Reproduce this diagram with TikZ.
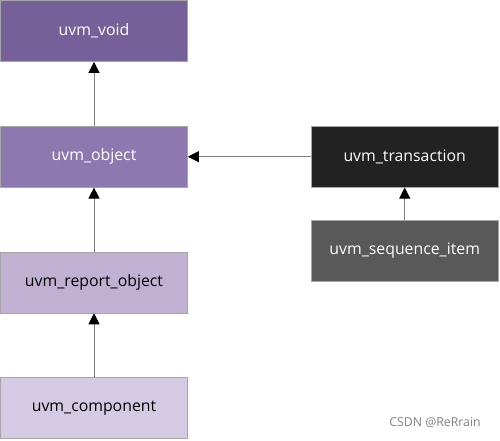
\documentclass[tikz,border=0pt]{standalone}
\usepackage{fontspec}
\setmainfont{Open Sans}
\usetikzlibrary{arrows.meta,positioning}
\definecolor{voidc}{HTML}{76609A}
\definecolor{objc}{HTML}{8D78B0}
\definecolor{repc}{HTML}{C0B1D3}
\definecolor{compc}{HTML}{D4CAE3}
\definecolor{transc}{HTML}{222222}
\definecolor{seqc}{HTML}{595959}

\begin{document}
\begin{tikzpicture}[
    node distance=1.28cm and 2.46cm,
    cls/.style={draw=gray!70, line width=0.4pt, minimum width=3.74cm, minimum height=1.22cm, align=center, font=\fontsize{9}{11}\selectfont, inner sep=0pt},
    arr/.style={-{Triangle[length=2.2mm, width=2.2mm, color=black]}, draw=gray, line width=0.4pt},
]
\useasboundingbox (0,0) rectangle (10,-8.8);

% UVM base classes
\node[cls, fill=voidc, text=white] at (1.88,-0.62) (void) {uvm\_void};
\node[cls, fill=objc, text=white, below=of void] (obj) {uvm\_object};
\node[cls, fill=repc, below=of obj] (rep) {uvm\_report\_object};
\node[cls, fill=compc, below=of rep] (comp) {uvm\_component};

% Transaction branch
\node[cls, fill=transc, text=white, right=of obj] (trans) {uvm\_transaction};
\node[cls, fill=seqc, text=white, below=0.64cm of trans] (seq) {uvm\_sequence\_item};

% Watermark
\node[font=\fontsize{7}{8}\selectfont, text=gray] at (8.7,-8.46) (mark) {CSDN @ReRrain};

% Arrows
\draw[arr] (obj) -- (void);
\draw[arr] (rep) -- (obj);
\draw[arr] (comp) -- (rep);
\draw[arr] (trans) -- (obj);
\draw[arr] (seq) -- (trans);
\end{tikzpicture}
\end{document}
